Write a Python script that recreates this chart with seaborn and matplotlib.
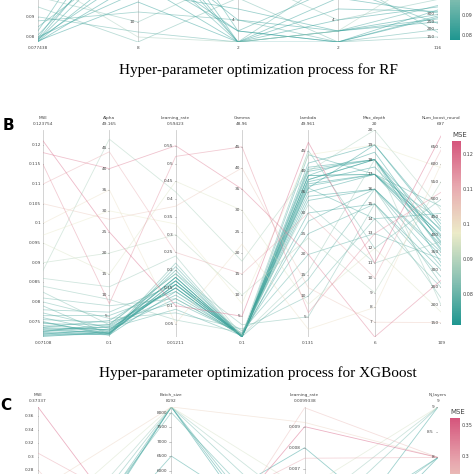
import numpy as np
import pandas as pd
import seaborn as sns
import matplotlib.pyplot as plt
from matplotlib.colors import LinearSegmentedColormap, Normalize
from matplotlib.cm import ScalarMappable
from matplotlib.ticker import FormatStrFormatter

# ---- RF (only lower part visible) ----
rf_names = ["", "", "", "", ""]
rf_mins = [0.077438, 8, 2, 2, 116]
rf_maxs = [0.181, 28.7, 20.8, 20.8, 1496]
rf_bottom = ["0.077438", "8", "2", "2", "116"]
rf_ticks = [[0.08, 0.09], [10], [4], [4], [150, 200, 250, 300]]
rf_rows = [
    [0.0775, 14, 2, 3, 300], [0.0778, 16, 3, 2, 280], [0.0780, 12, 2, 5, 320],
    [0.0783, 18, 4, 3, 250], [0.0786, 20, 2, 4, 350], [0.0790, 15, 3, 2, 290],
    [0.0795, 22, 2, 6, 310], [0.0800, 13, 5, 3, 270], [0.0810, 19, 2, 2, 330],
    [0.0830, 24, 3, 7, 240], [0.0850, 17, 2, 3, 360], [0.0880, 11, 4, 2, 200],
    [0.0900, 9, 2, 8, 180], [0.0950, 8, 6, 2, 150], [0.1000, 10, 8, 4, 400],
    [0.1100, 8.5, 2, 3, 600],
]

# ---- XGBoost ----
xgb_names = ["MSE", "Alpha", "Learning_rate", "Gamma", "Lambda", "Max_depth", "Num_boost_round"]
xgb_mins = [0.07108, 0.1, 0.01211, 0.1, 0.131, 6, 109]
xgb_maxs = [0.123754, 49.165, 0.59423, 48.96, 49.961, 20, 697]
xgb_top = ["0.123754", "49.165", "0.59423", "48.96", "49.961", "20", "697"]
xgb_bottom = ["0.07108", "0.1", "0.01211", "0.1", "0.131", "6", "109"]
xgb_ticks = [
    [0.075, 0.08, 0.085, 0.09, 0.095, 0.1, 0.105, 0.11, 0.115, 0.12],
    [5, 10, 15, 20, 25, 30, 35, 40, 45],
    [0.05, 0.1, 0.15, 0.2, 0.25, 0.3, 0.35, 0.4, 0.45, 0.5, 0.55],
    [5, 10, 15, 20, 25, 30, 35, 40, 45],
    [5, 10, 15, 20, 25, 30, 35, 40, 45],
    list(range(7, 21)),
    [150, 200, 250, 300, 350, 400, 450, 500, 550, 600, 650],
]
xgb_rows = [
    [0.0712, 1.2, 0.16, 0.2, 38, 18, 380], [0.0715, 0.8, 0.17, 0.1, 37, 17, 400],
    [0.0718, 2.0, 0.15, 0.3, 40, 18, 360], [0.0720, 1.5, 0.18, 0.2, 36, 19, 420],
    [0.0722, 0.6, 0.14, 0.1, 39, 17, 390], [0.0725, 3.1, 0.19, 0.4, 34, 16, 340],
    [0.0728, 1.0, 0.16, 0.2, 41, 18, 410], [0.0730, 2.4, 0.13, 0.5, 35, 17, 370],
    [0.0733, 0.9, 0.20, 0.1, 42, 19, 430], [0.0736, 4.0, 0.17, 0.3, 33, 16, 350],
    [0.0740, 1.8, 0.12, 0.6, 38, 18, 320], [0.0745, 2.9, 0.15, 0.2, 30, 15, 300],
    [0.0750, 0.5, 0.21, 0.1, 44, 17, 440], [0.0755, 3.6, 0.11, 0.8, 28, 16, 310],
    [0.0760, 1.3, 0.18, 0.3, 36, 14, 460], [0.0765, 5.2, 0.14, 1.0, 25, 15, 280],
    [0.0772, 2.2, 0.09, 0.4, 39, 17, 480], [0.0780, 6.0, 0.16, 1.5, 20, 13, 330],
    [0.0790, 0.7, 0.22, 0.2, 14, 16, 260], [0.0800, 4.5, 0.08, 2.0, 10, 14, 250],
    [0.0810, 7.5, 0.12, 0.6, 45, 12, 500], [0.0825, 3.0, 0.19, 3.0, 5, 15, 220],
    [0.0840, 9.0, 0.06, 1.2, 32, 11, 380], [0.0860, 12, 0.24, 0.5, 16, 18, 200],
    [0.0716, 1.1, 0.17, 0.2, 37.5, 17.5, 395], [0.0724, 2.6, 0.15, 0.3, 39, 18.5, 375],
    [0.0735, 1.7, 0.18, 0.1, 36.5, 17, 415], [0.0748, 0.9, 0.16, 0.4, 40.5, 18, 355],
    [0.0900, 20, 0.30, 10, 24, 9, 550], [0.0950, 15, 0.45, 30, 8, 12, 180],
    [0.1000, 35, 0.05, 22, 2, 8, 600], [0.1050, 28, 0.38, 40, 12, 7, 150],
    [0.1100, 44, 0.25, 15, 30, 10, 640], [0.1150, 8, 0.52, 45, 6, 13, 520],
    [0.1180, 40, 0.55, 35, 20, 6, 270], [0.1210, 25, 0.10, 5, 47, 11, 680],
    [0.0880, 47, 0.42, 18, 40, 20, 470], [0.0970, 30, 0.33, 8, 44, 19, 590],
]

# ---- C (only upper part visible) ----
c_names = ["MSE", "Batch_size", "Learning_rate", "N_layers"]
c_mins = [0.0667, 1054, 0.0001, 4.9]
c_maxs = [0.37337, 8192, 0.0099338, 9]
c_top = ["0.37337", "8192", "0.0099338", "9"]
c_ticks = [[0.28, 0.3, 0.32, 0.34, 0.36], [6000, 6500, 7000, 7500, 8000],
           [0.007, 0.008, 0.009], [8, 8.5, 9]]
c_rows = [
    [0.3734, 2048, 0.0090, 8], [0.3050, 4096, 0.0075, 8], [0.2500, 8192, 0.0092, 8],
    [0.2000, 8192, 0.0060, 9], [0.1500, 8192, 0.0050, 9], [0.1200, 8192, 0.0040, 9],
    [0.1000, 8000, 0.0030, 8], [0.0900, 8192, 0.0020, 7], [0.0800, 6500, 0.0035, 8],
    [0.0750, 8192, 0.0015, 9], [0.0700, 4096, 0.0080, 6], [0.0680, 8192, 0.0010, 8],
    [0.2800, 1100, 0.0099, 8],
]

cmap = LinearSegmentedColormap.from_list("mse", ["#1f9690", "#8cc2b4", "#ecebc8", "#e8aab0", "#d5557c"])
W = H = 474


def rect(x0, y_top, x1, y_bot):
    return [x0 / W, 1 - y_bot / H, (x1 - x0) / W, (y_bot - y_top) / H]


def panel(fig, ax_rect, names, mins, maxs, ticks, rows, top=None, bottom=None, fs=3.1):
    ax = fig.add_axes(ax_rect)
    n = len(names)
    recs = []
    for t, r in enumerate(rows):
        for i, v in enumerate(r):
            recs.append({"trial": t, "axis": i, "y": (v - mins[i]) / (maxs[i] - mins[i]), "MSE": r[0]})
    df = pd.DataFrame(recs).sort_values(["MSE", "trial"], ascending=[False, True])
    sns.lineplot(data=df, x="axis", y="y", hue="MSE", units="trial", estimator=None,
                 palette=cmap, hue_norm=(mins[0], maxs[0]), legend=False,
                 lw=0.6, alpha=0.45, ax=ax, sort=False)
    for i in range(n):
        ax.axvline(i, color="#cccccc", lw=0.6, zorder=0)
        for tv in ticks[i]:
            yy = (tv - mins[i]) / (maxs[i] - mins[i])
            ax.text(i - 0.03, yy, f"{tv:g}", ha="right", va="center", fontsize=fs, color="#444444")
            ax.plot([i - 0.015, i], [yy, yy], color="#999999", lw=0.4)
        if top is not None:
            ax.text(i, 1.05, names[i], ha="center", va="bottom", fontsize=fs, color="#444444")
            ax.text(i, 1.02, top[i], ha="center", va="bottom", fontsize=fs, color="#444444")
        if bottom is not None:
            ax.text(i, -0.02, bottom[i], ha="center", va="top", fontsize=fs, color="#444444")
    ax.set_xlim(0, n - 1)
    ax.set_ylim(0, 1)
    ax.axis("off")
    for t in ax.texts:
        t.set_clip_on(False)
    return ax


def cbar(fig, c_rect, vmin, vmax, ticks, label=None):
    cax = fig.add_axes(c_rect)
    cb = fig.colorbar(ScalarMappable(Normalize(vmin, vmax), cmap), cax=cax, ticks=ticks)
    cb.outline.set_visible(False)
    cax.yaxis.set_major_formatter(FormatStrFormatter("%g"))
    cax.tick_params(labelsize=3.5, length=0, pad=1.5, colors="#444444")
    if label:
        cax.set_title(label, fontsize=5, color="#444444", loc="left", pad=3)


fig = plt.figure(figsize=(4.74, 4.74), dpi=100)

panel(fig, rect(38, -165, 438, 42), rf_names, rf_mins, rf_maxs, rf_ticks, rf_rows, bottom=rf_bottom)
cbar(fig, rect(450, -145, 460, 40), 0.0774, 0.17, [0.08, 0.09])
fig.text(258 / W, 1 - 70 / H, "Hyper-parameter optimization process for RF",
         ha="center", va="center", fontsize=11, family="Liberation Serif")

panel(fig, rect(43, 130, 441, 337), xgb_names, xgb_mins, xgb_maxs, xgb_ticks, xgb_rows,
      top=xgb_top, bottom=xgb_bottom)
cbar(fig, rect(452, 141, 461, 325), 0.07108, 0.123754, [0.08, 0.09, 0.1, 0.11, 0.12], "MSE")
fig.text(8 / W, 1 - 125 / H, "B", ha="center", va="center", fontsize=11, weight="bold")
fig.text(258 / W, 1 - 373 / H, "Hyper-parameter optimization process for XGBoost",
         ha="center", va="center", fontsize=11, family="Liberation Serif")

panel(fig, rect(38, 407, 438, 614), c_names, c_mins, c_maxs, c_ticks, c_rows, top=c_top)
cbar(fig, rect(450, 418, 460, 600), 0.0667, 0.362, [0.3, 0.35], "MSE")
fig.text(6 / W, 1 - 405 / H, "C", ha="center", va="center", fontsize=11, weight="bold")

fig.savefig("out.png", dpi=100)
